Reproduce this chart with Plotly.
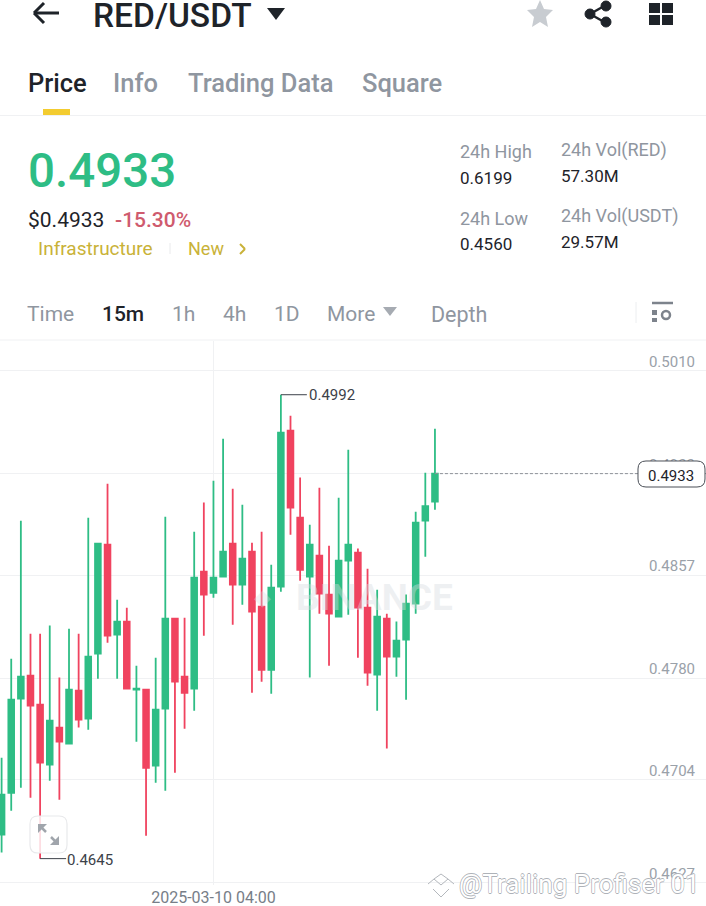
import pandas as pd
import plotly.graph_objects as go

# 15m candles
highs = [0.47205, 0.47946, 0.48978, 0.48133, 0.48133, 0.48193, 0.47804, 0.48170, 0.48133, 0.49000,
         0.48806, 0.49255, 0.48387, 0.48327, 0.47893, 0.47721, 0.47953, 0.49008, 0.48245, 0.48252,
         0.48896, 0.49113, 0.49277, 0.49591, 0.49217, 0.49098, 0.48813, 0.48896, 0.48649, 0.4992,
         0.49763, 0.49300, 0.48948, 0.49225, 0.48791, 0.49150, 0.49509, 0.48769, 0.48619, 0.48462,
         0.48282, 0.48223, 0.48425, 0.49045, 0.49337, 0.49666]
lows = [0.46495, 0.46809, 0.46981, 0.46906, 0.4645, 0.47033, 0.46891, 0.47310, 0.47430, 0.47415,
        0.47796, 0.48065, 0.47796, 0.47721, 0.47325, 0.46622, 0.47018, 0.46958, 0.47093, 0.47422,
        0.47557, 0.48118, 0.48402, 0.48559, 0.48200, 0.48350, 0.47691, 0.47774, 0.47684, 0.48447,
        0.48873, 0.48529, 0.47804, 0.48282, 0.47893, 0.48260, 0.48275, 0.47953, 0.47744, 0.47557,
        0.47273, 0.47811, 0.47639, 0.48282, 0.48709, 0.49060]
opens = [0.46629, 0.46943, 0.47647, 0.47819, 0.47602, 0.47153, 0.47430, 0.47310, 0.47706, 0.47497,
         0.47983, 0.48799, 0.48125, 0.48223, 0.47714, 0.47714, 0.47145, 0.47572, 0.48245, 0.47811,
         0.47721, 0.48597, 0.48439, 0.48559, 0.48806, 0.48499, 0.48746, 0.48335, 0.47863, 0.48484,
         0.49651, 0.49000, 0.48559, 0.48716, 0.48425, 0.48260, 0.48679, 0.48739, 0.48327, 0.47826,
         0.48245, 0.47961, 0.48088, 0.48357, 0.48978, 0.49120]
closes = [0.46929, 0.47639, 0.47811, 0.47594, 0.47168, 0.47482, 0.47325, 0.47714, 0.47490, 0.47961,
          0.48806, 0.48118, 0.48223, 0.47721, 0.47721, 0.47130, 0.47564, 0.48245, 0.47774, 0.47691,
          0.48552, 0.48425, 0.48552, 0.48746, 0.48499, 0.48694, 0.48297, 0.47863, 0.48477, 0.49636,
          0.49075, 0.48611, 0.48799, 0.48432, 0.48282, 0.48679, 0.48799, 0.48327, 0.47841, 0.48260,
          0.47961, 0.48080, 0.48357, 0.48963, 0.49087, 0.4933]
y_ticks = [0.5010, 0.4933, 0.4857, 0.4780, 0.4704, 0.4627]
y_labels = ["0.5010", "0.4933", "0.4857", "0.4780", "0.4704", "0.4627"]
last_price = 0.4933
peak_price = 0.4992
bottom_price = 0.4645

GREEN = "#2ebd85"
RED = "#f0435f"
DARK = "#1e2329"
GRAY = "#8f96a0"
YELLOW = "#c9b238"
GRID = "#f0f1f3"
FONT = "Roboto"

W, H = 706, 906
times = pd.date_range("2025-03-09 22:30", periods=len(opens), freq="15min")
step = 9.63  # px per candle
bar = pd.Timedelta(minutes=15)
x_start = times[0] - bar * (1.6 / step)
x_end = x_start + bar * (W / step)
px_per_price = 1 / 0.0000748


def X(p):
    return p / W


def Y(p):
    return 1 - p / H


fig = go.Figure(go.Candlestick(
    x=times, open=opens, high=highs, low=lows, close=closes,
    increasing=dict(line=dict(color=GREEN, width=1.8), fillcolor=GREEN),
    decreasing=dict(line=dict(color=RED, width=1.8), fillcolor=RED),
    whiskerwidth=0, hoverinfo="skip", showlegend=False,
))

notes = []
shapes = []


def put(text, x, y, size, color=GRAY, anchor="left", weight=400, font=FONT, shadow=None):
    f = dict(family=font, size=size, color=color, weight=weight)
    if shadow:
        f["shadow"] = shadow
    if anchor == "left":
        x -= 1
    notes.append(dict(text=text, x=X(x), y=Y(y), xref="paper", yref="paper", showarrow=False,
                      xanchor=anchor, yanchor="middle", font=f, borderpad=0))


def seg(x0, y0, x1, y1, color=DARK, width=1):
    shapes.append(dict(type="line", xref="paper", yref="paper", x0=X(x0), y0=Y(y0), x1=X(x1), y1=Y(y1),
                       line=dict(color=color, width=width)))


def poly(points, color=DARK, line=None, close=True, width=1):
    d = "M " + " L ".join(f"{X(a):.5f},{Y(b):.5f}" for a, b in points) + (" Z" if close else "")
    shapes.append(dict(type="path", xref="paper", yref="paper", path=d,
                       fillcolor=color, line=dict(color=line or color, width=width if line else 0)))


def dot(cx, cy, r, color=DARK, line=None, width=1):
    shapes.append(dict(type="circle", xref="paper", yref="paper", x0=X(cx - r), x1=X(cx + r),
                       y0=Y(cy - r), y1=Y(cy + r), fillcolor=color,
                       line=dict(color=line or color, width=width)))


def rrect(x0, y0, x1, y1, r, fill, line, width=1):
    # rounded box in pixel coordinates
    d = (f"M {X(x0 + r):.5f},{Y(y0):.5f} L {X(x1 - r):.5f},{Y(y0):.5f} "
         f"Q {X(x1):.5f},{Y(y0):.5f} {X(x1):.5f},{Y(y0 + r):.5f} L {X(x1):.5f},{Y(y1 - r):.5f} "
         f"Q {X(x1):.5f},{Y(y1):.5f} {X(x1 - r):.5f},{Y(y1):.5f} L {X(x0 + r):.5f},{Y(y1):.5f} "
         f"Q {X(x0):.5f},{Y(y1):.5f} {X(x0):.5f},{Y(y1 - r):.5f} L {X(x0):.5f},{Y(y0 + r):.5f} "
         f"Q {X(x0):.5f},{Y(y0):.5f} {X(x0 + r):.5f},{Y(y0):.5f} Z")
    shapes.append(dict(type="path", xref="paper", yref="paper", path=d, fillcolor=fill,
                       line=dict(color=line, width=width)))


# header
seg(34, 13, 59, 13, DARK, 3)
seg(34, 13, 44, 3, DARK, 3)
seg(34, 13, 44, 23, DARK, 3)
put("RED/USDT", 93, 16, 33.5, DARK, weight=500)
poly([(267, 8), (285, 8), (276, 20)], DARK)
poly([(540, 0), (544, 9), (553, 10), (546, 17), (548, 27), (540, 22), (532, 27), (534, 17), (527, 10), (536, 9)],
     "#c8ccd1")
seg(590, 14, 606, 5, DARK, 2.5)
seg(590, 14, 606, 23, DARK, 2.5)
dot(590, 14, 5)
dot(606, 6, 5)
dot(606, 22, 5)
for gx, gy in [(649, 3), (662, 3), (649, 15), (662, 15)]:
    poly([(gx, gy), (gx + 11, gy), (gx + 11, gy + 10), (gx, gy + 10)], DARK)

# tabs
put("Price", 28, 83, 25.5, DARK, weight=500)
put("Info", 113, 83, 25.5, GRAY, weight=500)
put("Trading Data", 188, 83, 25.5, GRAY, weight=500)
put("Square", 362, 83, 25.5, GRAY, weight=500)
poly([(43, 109), (70, 109), (70, 115), (43, 115)], "#f3cc30")
seg(0, 115.5, W, 115.5, GRID)

# price block
put("0.4933", 28, 171, 47.5, GREEN, weight=500)
put("$0.4933", 28, 220, 21, DARK)
put("-15.30%", 115, 220, 21, "#cf5b6e", weight=500)
put("Infrastructure", 38, 249, 19, YELLOW)
seg(170, 243, 170, 254, "#e9eaec")
put("New", 188, 249, 18, YELLOW)
seg(240, 244, 245, 249, YELLOW, 2)
seg(245, 249, 240, 254, YELLOW, 2)

put("24h High", 460, 152, 18, GRAY)
put("0.6199", 460, 178, 17, DARK)
put("24h Vol(RED)", 561, 150, 18, GRAY)
put("57.30M", 561, 176, 17, DARK)
put("24h Low", 460, 218, 18, GRAY)
put("0.4560", 460, 244, 17, DARK)
put("24h Vol(USDT)", 561, 216, 18, GRAY)
put("29.57M", 561, 242, 17, DARK)

# interval row
put("Time", 27, 314, 21, GRAY)
put("15m", 102, 314, 21, DARK, weight=500)
put("1h", 172, 314, 21, GRAY)
put("4h", 223, 314, 21, GRAY)
put("1D", 274, 314, 21, GRAY)
put("More", 327, 314, 21, GRAY)
poly([(383, 307), (397, 307), (390, 316)], "#a6abb2")
put("Depth", 431, 314, 21.5, GRAY)
seg(636, 302, 636, 323, "#eceef0")
seg(652, 303, 673, 303, "#7d838c", 2.5)
poly([(652, 310), (657, 310), (657, 315), (652, 315)], "#7d838c")
poly([(652, 318), (657, 318), (657, 322), (652, 322)], "#7d838c")
dot(666, 315, 4, "white", "#7d838c", 2.5)
seg(0, 340, W, 340, GRID)

# last price marker
shapes.append(dict(type="line", xref="x", yref="y", x0=times[-1], x1=x_end, y0=last_price, y1=last_price,
                   line=dict(color="#8d9198", width=1, dash="3px,2px")))
rrect(638, 461, 705, 487, 8, "white", "#4a4f57", 1)
put("0.4933", 671, 476, 15, DARK, "center")

# high / low callouts
shapes.append(dict(type="line", xref="x", yref="y", x0=times[29], x1=times[29] + bar * 2.7,
                   y0=peak_price, y1=peak_price, line=dict(color="#3c4149", width=1)))
notes.append(dict(text=f"{peak_price:.4f}", x=times[29] + bar * 2.7, y=peak_price, xref="x", yref="y",
                  showarrow=False, xanchor="left", font=dict(family=FONT, size=15, color="#3c4149")))
shapes.append(dict(type="line", xref="x", yref="y", x0=times[4], x1=times[4] + bar * 2.7,
                   y0=bottom_price, y1=bottom_price, line=dict(color="#3c4149", width=1)))
notes.append(dict(text=f"{bottom_price:.4f}", x=times[4] + bar * 2.6, y=bottom_price, xref="x", yref="y",
                  showarrow=False, xanchor="left", yshift=-1, font=dict(family=FONT, size=15, color="#3c4149")))

# expand button
rrect(30, 816, 67, 853, 8, "rgba(255,255,255,0.82)", "#e8e9eb", 1.2)
poly([(38, 824), (47, 824), (38, 833)], "#a0a5ac")
seg(41, 827, 46, 832, "#a0a5ac", 2.5)
poly([(59, 845), (50, 845), (59, 836)], "#a0a5ac")
seg(56, 842, 51, 837, "#a0a5ac", 2.5)

# watermarks
put("◆", 254, 597, 22, "rgba(215,220,224,0.35)")
put("BINANCE", 296, 597, 37, "rgba(215,220,224,0.42)", weight=700)
halo = "-0.7px 0 0 #aeb2b8, 0.7px 0 0 #aeb2b8, 0 -0.7px 0 #aeb2b8, 0 0.7px 0 #aeb2b8"
put("@Trailing Profiser 01", 459, 884, 26, "white", shadow=halo)
logo = "#b4b8bd"
poly([(434, 879), (441, 874), (448, 879)], "rgba(0,0,0,0)", logo, close=False)
poly([(428, 884), (434, 879), (441, 885), (448, 879), (454, 884)], "rgba(0,0,0,0)", logo, close=False)
poly([(433, 889), (441, 897), (449, 889)], "rgba(0,0,0,0)", logo, close=False)

fig.update_layout(
    width=W, height=H, margin=dict(l=0, r=0, t=0, b=0),
    paper_bgcolor="white", plot_bgcolor="white", showlegend=False,
    boxgap=0.15,
    annotations=notes, shapes=shapes,
    xaxis=dict(
        range=[x_start, x_end], rangeslider=dict(visible=False),
        tickvals=[times[22]], tickformat="%Y-%m-%d %H:%M", ticks="",
        ticklabelstandoff=1,
        tickfont=dict(family=FONT, size=16, color="#777e88"),
        showgrid=True, gridcolor=GRID, gridwidth=1, zeroline=False, showline=False, automargin=False,
    ),
    yaxis=dict(
        domain=[Y(884.7), Y(340.7)],
        range=[0.4627 - 2 / px_per_price, 0.4627 + 542 / px_per_price],
        side="right", tickvals=y_ticks, ticktext=y_labels, ticks="",
        ticklabelposition="inside", ticklabelstandoff=8, ticklabelshift=-9,
        tickfont=dict(family=FONT, size=15, color="#9aa1a9"),
        showgrid=True, gridcolor=GRID, gridwidth=1, zeroline=False, showline=False, automargin=False,
    ),
)

fig.write_html("out.html", config={"displayModeBar": False}, post_script="document.body.style.margin='0';")
